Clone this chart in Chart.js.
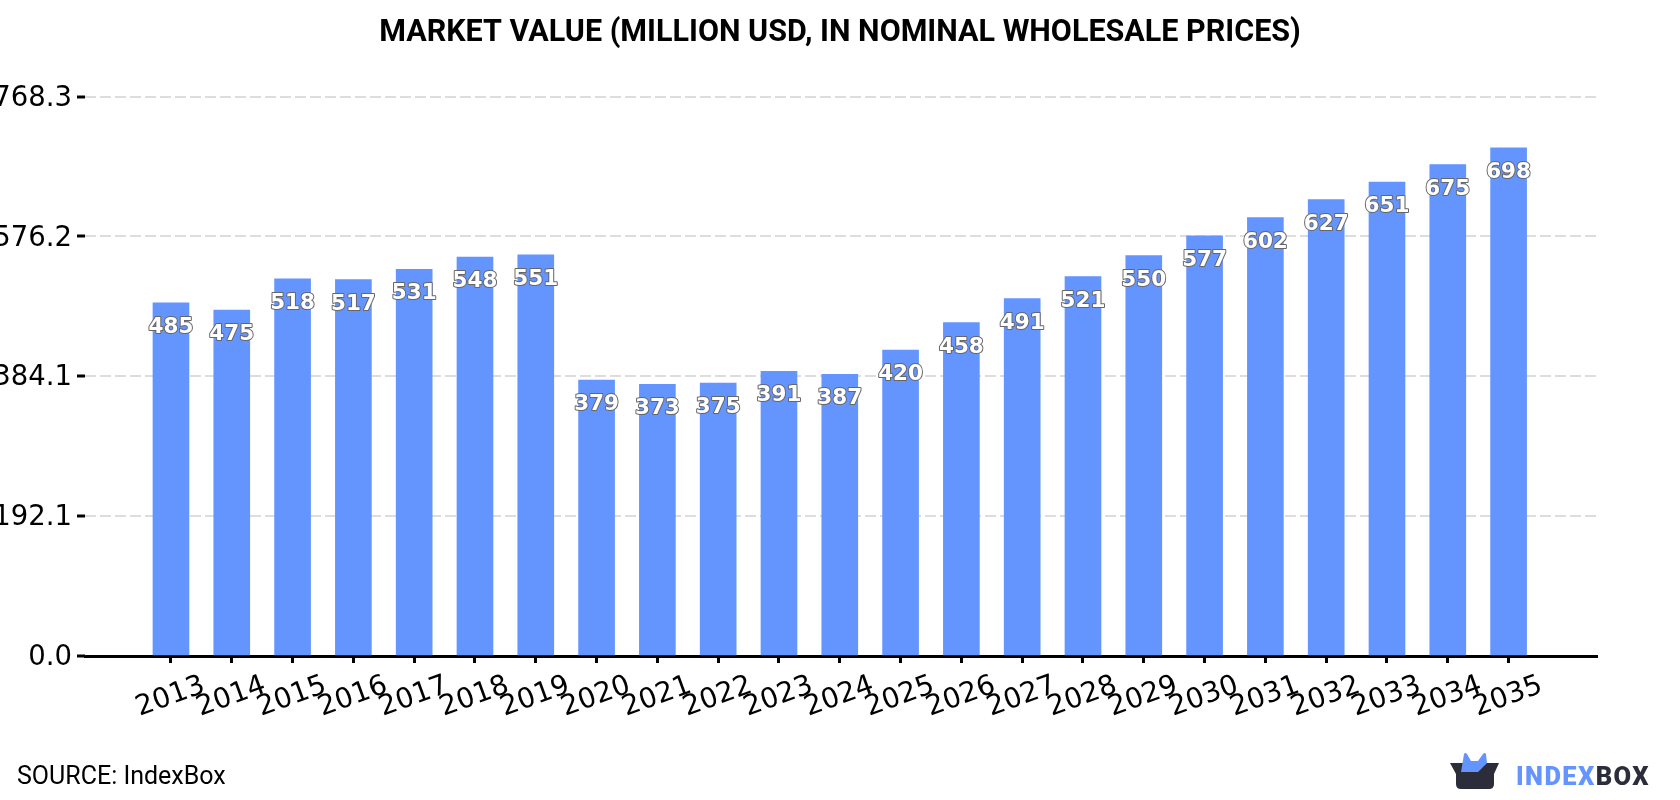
<!DOCTYPE html>
<html>
<head>
<meta charset="utf-8">
<title>Market value</title>
<script src="https://cdn.jsdelivr.net/npm/chart.js@4/dist/chart.umd.min.js"></script>
<style>
    html, body { margin: 0; padding: 0; background: #fff; overflow: hidden; }
    #wrap { position: relative; width: 1680px; height: 800px; }
    #source { position: absolute; left: 17px; top: 762px; font: 25px Roboto, sans-serif; color: #000; line-height: 28px; }
    #logo { position: absolute; left: 1450px; top: 752px; }
    #brand { position: absolute; left: 1516px; top: 761px; font: 900 25.5px Roboto, sans-serif; letter-spacing: 1.4px; line-height: 30px; color: #6495ff; }
    #brand span { color: #2b2d3a; }
</style>
</head>
<body>
<div id="wrap">
    <canvas id="market-chart" width="1680" height="800"></canvas>
    <div id="source">SOURCE: IndexBox</div>
    <svg id="logo" width="50" height="38" viewBox="0 0 50 38">
        <path d="M0 11 H49 L44 22 V32 Q44 37 39 37 H11 Q6 37 6 32 V22 Z" fill="#2b2d3a"/>
        <path d="M11 20 L14 2 Q15 0 17 2 L21 9 H28 L33 2 Q35 0 36 2 L37 11 L28 20 Z" fill="#6495ff"/>
    </svg>
    <div id="brand">INDEX<span>BOX</span></div>
</div>
<script>
const years = [2013, 2014, 2015, 2016, 2017, 2018, 2019, 2020, 2021, 2022, 2023, 2024,
    2025, 2026, 2027, 2028, 2029, 2030, 2031, 2032, 2033, 2034, 2035];
const marketValue = [485, 475, 518, 517, 531, 548, 551, 379, 373, 375, 391, 387,
    420, 458, 491, 521, 550, 577, 602, 627, 651, 675, 698];
const yTicks = [0, 192.1, 384.1, 576.2, 768.3];

// value labels sit a little under the top of each bar, white with a thin grey outline
const barLabels = {
    id: 'barLabels',
    afterDatasetsDraw(chart) {
        const ctx = chart.ctx;
        const bars = chart.getDatasetMeta(0).data;
        ctx.save();
        ctx.font = 'bold 21.5px "DejaVu Sans"';
        ctx.textAlign = 'center';
        ctx.textBaseline = 'middle';
        ctx.lineJoin = 'round';
        ctx.lineWidth = 2;
        ctx.strokeStyle = '#666';
        ctx.fillStyle = '#fff';
        bars.forEach((bar, i) => {
            ctx.strokeText(marketValue[i], bar.x, bar.y + 24.5);
            ctx.fillText(marketValue[i], bar.x, bar.y + 24.5);
        });
        ctx.restore();
    }
};

new Chart(document.getElementById('market-chart').getContext('2d'), {
    type: 'bar',
    data: {
        datasets: [{
            data: years.map((year, i) => ({ x: year, y: marketValue[i] })),
            backgroundColor: '#6495ff',
            barThickness: 36
        }]
    },
    plugins: [barLabels],
    options: {
        responsive: false,
        animation: false,
        plugins: {
            legend: { display: false },
            tooltip: { enabled: false },
            title: {
                display: true,
                text: 'MARKET VALUE (MILLION USD, IN NOMINAL WHOLESALE PRICES)',
                color: '#000',
                font: { family: 'Roboto', size: 30.5, weight: 'bold', lineHeight: 1.2 },
                padding: { top: 15, bottom: 45 }
            }
        },
        scales: {
            x: {
                type: 'linear',
                offset: false,
                min: 2011.586,
                max: 2036.454,
                afterBuildTicks: scale => { scale.ticks = years.map(value => ({ value })); },
                afterFit: scale => { scale.height = 144; },
                border: { color: '#000', width: 3 },
                grid: { offset: false, drawOnChartArea: false, drawTicks: true, tickLength: 7, tickColor: '#000', tickWidth: 3 },
                ticks: {
                    autoSkip: false,
                    minRotation: 20,
                    maxRotation: 20,
                    labelOffset: 33,
                    padding: 6,
                    color: '#000',
                    font: { family: 'DejaVu Sans', size: 28 },
                    callback: value => String(value)
                }
            },
            y: {
                min: 0,
                max: 768.3,
                afterBuildTicks: scale => { scale.ticks = yTicks.map(value => ({ value })); },
                afterFit: scale => { scale.width = 85; },
                border: { display: false, dash: [11, 4] },
                grid: {
                    color: ctx => ctx.tick && ctx.tick.value === 0 ? 'rgba(0,0,0,0)' : '#ddd',
                    lineWidth: 2,
                    drawTicks: true,
                    tickLength: 8,
                    tickColor: '#000',
                    tickWidth: 3,
                    tickBorderDash: []
                },
                ticks: {
                    autoSkip: false,
                    padding: 5,
                    labelOffset: 2,
                    color: '#000',
                    font: { family: 'DejaVu Sans', size: 27.5 },
                    callback: value => value.toFixed(1)
                }
            },
            // empty axis that only holds the right margin, so the title stays centred on the page
            rightMargin: {
                position: 'right',
                afterFit: scale => { scale.width = 83; },
                border: { display: false },
                grid: { display: false },
                ticks: { display: false }
            }
        }
    }
});
</script>
</body>
</html>
